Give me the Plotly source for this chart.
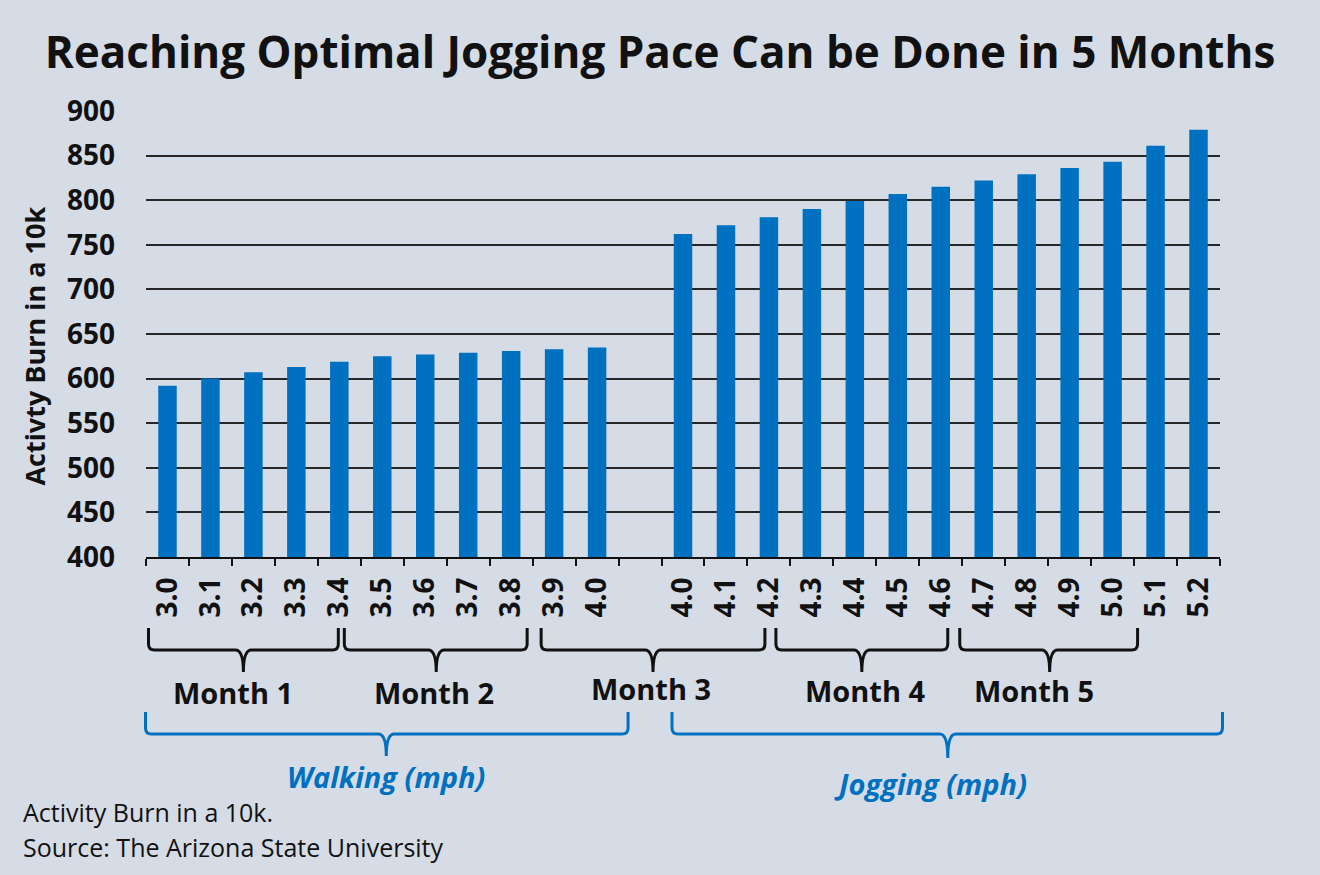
import plotly.graph_objects as go

# ---- data ----
walk_labels = ["3.0", "3.1", "3.2", "3.3", "3.4", "3.5", "3.6", "3.7", "3.8", "3.9", "4.0"]
walk_values = [592, 600, 607, 613, 619, 625, 627, 629, 631, 633, 635]
jog_labels = ["4.0", "4.1", "4.2", "4.3", "4.4", "4.5", "4.6", "4.7", "4.8", "4.9", "5.0", "5.1", "5.2"]
jog_values = [762, 772, 781, 790, 799, 807, 815, 822, 829, 836, 843, 861, 879]
month_labels = ["Month 1", "Month 2", "Month 3", "Month 4", "Month 5"]
y_ticks = [400, 450, 500, 550, 600, 650, 700, 750, 800, 850, 900]

BG = "#d5dce5"
BLUE = "#0070c0"
FONT = "Open Sans"

# positions: walking slots 0..10, empty slot 11, jogging slots 12..24
walk_x = list(range(len(walk_labels)))
jog_x = [len(walk_labels) + 1 + i for i in range(len(jog_labels))]
all_x = walk_x + jog_x
all_labels = walk_labels + jog_labels
n_slots = len(walk_labels) + 1 + len(jog_labels)

fig = go.Figure()
fig.add_trace(go.Bar(x=all_x, y=walk_values + jog_values, marker=dict(color=BLUE, line=dict(width=0)),
                     width=0.43, showlegend=False, hoverinfo="skip"))
# invisible trace on second x axis for labels
fig.add_trace(go.Scatter(x=all_x, y=walk_values + jog_values, xaxis="x2", mode="markers",
                         marker=dict(opacity=0), showlegend=False, hoverinfo="skip"))

# plot area in pixels
L, R, T, B = 145.5, 1220.5, 111, 557
W, H = 1320, 875


def px(xp):
    return (xp - L) / (R - L)


def py(yp):
    return (B - yp) / (B - T)


def brace(x0, x1, xc, ytop, ymid, ytip, color, width):
    r = 6
    s = 8
    X0, X1, XC = px(x0), px(x1), px(xc)
    dx = r / (R - L)
    ds = s / (R - L)
    Yt, Ym, Yp = py(ytop), py(ymid), py(ytip)
    dy = r / (B - T)
    path = (f"M {X0},{Yt} L {X0},{Ym + dy} Q {X0},{Ym} {X0 + dx},{Ym} "
            f"L {XC - ds},{Ym} Q {XC},{Ym} {XC},{Yp} Q {XC},{Ym} {XC + ds},{Ym} "
            f"L {X1 - dx},{Ym} Q {X1},{Ym} {X1},{Ym + dy} L {X1},{Yt}")
    return dict(type="path", path=path, xref="paper", yref="paper",
                line=dict(color=color, width=width), fillcolor="rgba(0,0,0,0)")


shapes = []
black_braces = [(148, 338, 243), (344, 527, 436), (541, 765, 653), (776, 948, 862), (960, 1138, 1050)]
for x0, x1, xc in black_braces:
    shapes.append(brace(x0, x1, xc, 628, 650, 672, "#111111", 3))
shapes.append(brace(145, 628, 386, 712, 734, 756, BLUE, 3))
shapes.append(brace(672, 1223, 948, 712, 734, 758, BLUE, 3))

annotations = []
month_pos = [(233, 692), (434, 692), (651, 688), (866, 690), (1034, 690)]
for lab, (mx, my) in zip(month_labels, month_pos):
    annotations.append(dict(text=lab, x=px(mx), y=py(my), xref="paper", yref="paper",
                            xanchor="center", yanchor="middle", showarrow=False,
                            font=dict(family=FONT, size=29, color="#111111", weight=700)))
annotations.append(dict(text="<i>Walking (mph)</i>", x=px(386), y=py(776), xref="paper", yref="paper",
                        xanchor="center", yanchor="middle", showarrow=False,
                        font=dict(family=FONT, size=29, color=BLUE, weight=700)))
annotations.append(dict(text="<i>Jogging (mph)</i>", x=px(931), y=py(783), xref="paper", yref="paper",
                        xanchor="center", yanchor="middle", showarrow=False,
                        font=dict(family=FONT, size=29, color=BLUE, weight=700)))
annotations.append(dict(text="Activity Burn in a 10k.", x=px(20), y=py(812), xref="paper", yref="paper",
                        xanchor="left", yanchor="middle", showarrow=False,
                        font=dict(family=FONT, size=25, color="#111111")))
annotations.append(dict(text="Source: The Arizona State University", x=px(20), y=py(847), xref="paper", yref="paper",
                        xanchor="left", yanchor="middle", showarrow=False,
                        font=dict(family=FONT, size=25, color="#111111")))
annotations.append(dict(text="Activty Burn in a 10k", x=px(33), y=py(346), xref="paper", yref="paper",
                        xanchor="center", yanchor="middle", showarrow=False, textangle=-90,
                        font=dict(family=FONT, size=27, color="#111111", weight=700)))

fig.update_layout(
    width=W, height=H,
    paper_bgcolor=BG, plot_bgcolor=BG,
    margin=dict(l=L, r=W - R, t=T, b=H - B, pad=0),
    title=dict(text="Reaching Optimal Jogging Pace Can be Done in 5 Months", x=0.5, xanchor="center",
               y=1 - 53 / H, yanchor="middle", xref="container", yref="container",
               font=dict(family=FONT, size=44, color="#111111", weight=700)),
    xaxis=dict(range=[-0.5, n_slots - 0.5], tickmode="linear", tick0=-0.5, dtick=1,
               showticklabels=False, ticks="outside", ticklen=7, tickwidth=2, tickcolor="#111111",
               showline=True, linecolor="#111111", linewidth=2, showgrid=False, zeroline=False),
    xaxis2=dict(range=[-0.5, n_slots - 0.5], overlaying="x", side="bottom", anchor="y",
                tickmode="array", tickvals=all_x, ticktext=all_labels, tickangle=-90,
                ticks="", showline=False, showgrid=False, zeroline=False, ticklabelstandoff=14,
                tickfont=dict(family=FONT, size=28, color="#111111", weight=700)),
    yaxis=dict(range=[400, 900], tickmode="array", tickvals=y_ticks, showgrid=True,
               gridcolor="#262626", gridwidth=2, zeroline=False, showline=False, ticks="",
               ticklabelstandoff=30,
               tickfont=dict(family=FONT, size=28, color="#111111", weight=700)),
    shapes=shapes,
    annotations=annotations,
    bargap=0.57,
)

fig.write_html("out.html")
